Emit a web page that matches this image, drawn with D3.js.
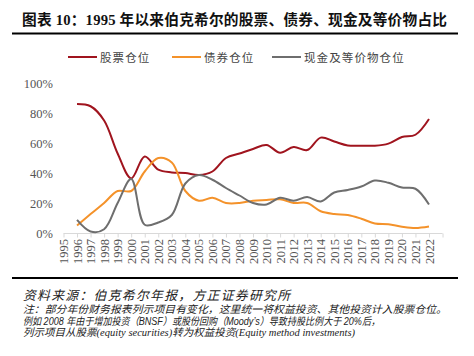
<!DOCTYPE html>
<html><head><meta charset="utf-8">
<script src="https://cdn.jsdelivr.net/npm/d3@7"></script>
<style>
body{margin:0;background:#fff;}
svg{display:block;}
</style></head>
<body>
<svg id="c" width="474" height="356"></svg>
<script>
const years = d3.range(1995, 2023).map(String);
const stockPos = [null,86,84.5,75,53,36.4,51,42.2,40.4,40,38.7,41,50,53,56,58.7,53.5,57.3,55.3,63.6,61,58.4,58.2,58.2,59.6,64,65.5,76];
const bondPos  = [null,5,12.6,20,28,28,41,50,47,28,21.5,23.5,20,20,21.5,22,22.5,20,20,14.5,12.7,12,9.5,6.3,5.8,4.2,3.3,4.3];
const cashPos  = [null,8.7,1,2.5,20,36,5.5,7,12,33,38.7,35.5,30,25,20,19,23.5,21.5,24,21,27,28.7,31,35,33.5,30.3,29.5,19];
const yTicks = [0,20,40,60,80,100];
const seriesNames = ["股票仓位","债券仓位","现金及等价物仓位"];
const seriesColors = ["#A0141E","#F4922A","#6E6E6E"];
const seriesData = [stockPos, bondPos, cashPos];

const title = "图表 10：1995 年以来伯克希尔的股票、债券、现金及等价物占比";
const source = "资料来源：伯克希尔年报，方正证券研究所";
const notes = [
 "注：部分年份财务报表列示项目有变化，这里统一将权益投资、其他投资计入股票仓位。",
 "例如 2008 年由于增加投资（BNSF）或股份回购（Moody’s）导致持股比例大于 20%后，",
 "列示项目从股票(equity securities)转为权益投资(Equity method investments)"
];

const svg = d3.select("#c");
const x = d3.scalePoint().domain(years).range([63.5, 429]);
const y = d3.scaleLinear().domain([0,100]).range([233, 83]);
const step = x.step();

// title
svg.append("text").attr("x",22).attr("y",25)
  .attr("font-family","'Liberation Serif','Noto Sans CJK SC',serif")
  .attr("font-size",14.7).attr("font-weight","bold").attr("fill","#111")
  .attr("textLength",425).attr("lengthAdjust","spacing")
  .text(title);
svg.append("line").attr("x1",12).attr("x2",458).attr("y1",33.5).attr("y2",33.5)
  .attr("stroke","#000").attr("stroke-width",2);

// axis
const axisG = svg.append("g");
axisG.append("line").attr("x1",x(years[0])).attr("x2",x(years[years.length-1])+step)
  .attr("y1",233.5).attr("y2",233.5).attr("stroke","#d9d9d9").attr("stroke-width",1);
const tickYears = years.concat(["_end"]);
axisG.selectAll("line.t").data(tickYears).enter().append("line").attr("class","t")
  .attr("x1",(d,i)=>x(years[0])+i*step+0.5).attr("x2",(d,i)=>x(years[0])+i*step+0.5)
  .attr("y1",233.5).attr("y2",237.5).attr("stroke","#d9d9d9");
axisG.selectAll("text.xl").data(years).enter().append("text").attr("class","xl")
  .attr("transform",d=>`translate(${x(d)+4.5},239) rotate(-90)`)
  .attr("text-anchor","end")
  .attr("font-family","'Liberation Serif',serif").attr("font-size",12.5).attr("fill","#555")
  .text(d=>d);
svg.selectAll("text.yl").data(yTicks).enter().append("text").attr("class","yl")
  .attr("x",53).attr("y",d=>y(d)+4.5).attr("text-anchor","end")
  .attr("font-family","'Liberation Serif',serif").attr("font-size",12.5).attr("fill","#555")
  .text(d=>d+"%");

// lines
const line = d3.line().defined(d=>d.v!=null).x(d=>x(d.k)).y(d=>y(d.v)).curve(d3.curveCatmullRom.alpha(0.5));
seriesData.forEach((arr,si)=>{
  const pts = arr.map((v,i)=>({k:years[i],v}));
  svg.append("path").attr("d",line(pts)).attr("fill","none")
    .attr("stroke",seriesColors[si]).attr("stroke-width",2).attr("stroke-linejoin","round");
});

// legend
const legendX = [68, 172, 272];
seriesNames.forEach((n,i)=>{
  svg.append("line").attr("x1",legendX[i]).attr("x2",legendX[i]+29).attr("y1",57).attr("y2",57)
    .attr("stroke",seriesColors[i]).attr("stroke-width",2);
  svg.append("text").attr("x",legendX[i]+32).attr("y",61.5)
    .attr("font-family","'Noto Sans CJK SC',sans-serif").attr("font-size",11.5)
    .attr("letter-spacing",1.1).attr("fill","#444").text(n);
});

// footer
svg.append("line").attr("x1",12).attr("x2",458).attr("y1",278).attr("y2",278)
  .attr("stroke","#000").attr("stroke-width",2);
svg.append("text").attr("x",23).attr("y",300)
  .attr("font-family","'Liberation Serif','Noto Sans CJK SC',serif").attr("font-size",12.8)
  .attr("font-style","italic").attr("fill","#222")
  .attr("textLength",267).attr("lengthAdjust","spacing").text(source);
const noteFonts = ["'Liberation Sans','Noto Sans CJK SC',sans-serif","'Liberation Sans','Noto Sans CJK SC',sans-serif","'Liberation Serif','Noto Sans CJK SC',serif"];
const noteLens = [424, 357, 332];
notes.forEach((t,i)=>{
  svg.append("text").attr("x",23).attr("y",313+i*11.7)
    .attr("font-family",noteFonts[i]).attr("font-size",10.4)
    .attr("font-style","italic").attr("fill","#222")
    .attr("textLength",noteLens[i]).attr("lengthAdjust","spacingAndGlyphs").text(t);
});
</script>
</body></html>
